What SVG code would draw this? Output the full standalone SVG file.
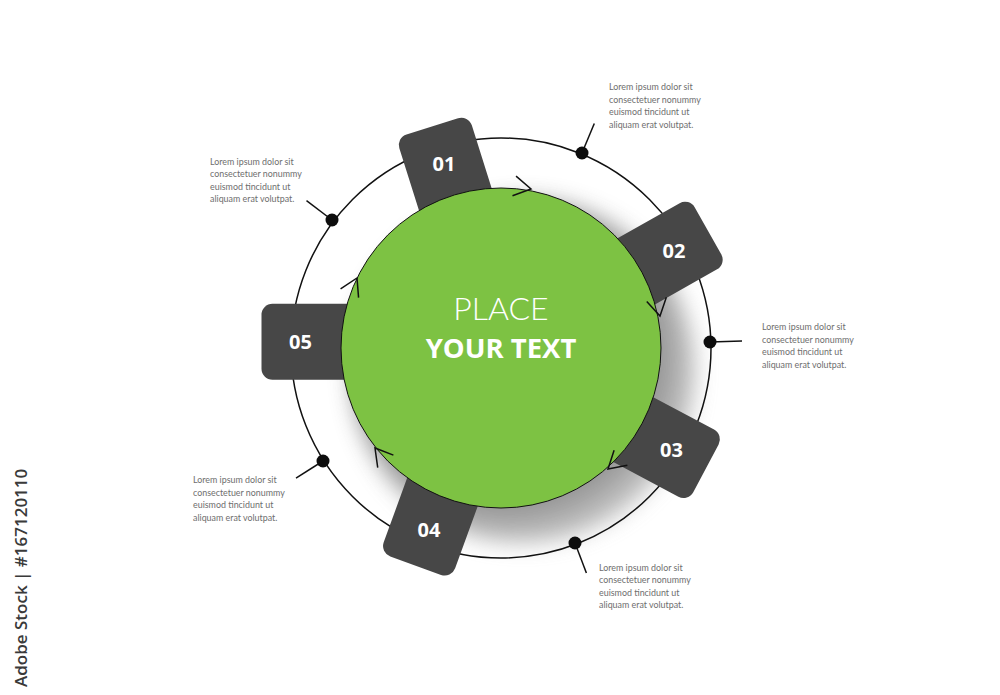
<svg xmlns="http://www.w3.org/2000/svg" width="1000" height="695" viewBox="0 0 1000 695">
<defs>
<style>
.note{font-family:Lato,"Open Sans","Liberation Sans",sans-serif;font-size:8.9px;fill:#6e6e6e}
.num{font-family:"Open Sans","Liberation Sans",sans-serif;font-size:20px;font-weight:700;fill:#ffffff;text-anchor:middle}
.tab{fill:#474747}
.spoke{stroke:#111;stroke-width:1.5;fill:none}
.dot{fill:#0d0d0d}
.chev{stroke:#111;stroke-width:1.5;fill:none;stroke-linejoin:miter}
</style>
<filter id="blur" x="-30%" y="-30%" width="160%" height="160%">
<feGaussianBlur stdDeviation="11"/>
</filter>
<radialGradient id="shg" cx="0.45" cy="0.45" r="0.6">
<stop offset="0.7" stop-color="#444"/>
<stop offset="1" stop-color="#bbb"/>
</radialGradient>
</defs>
<rect width="1000" height="695" fill="#ffffff"/>
<g id="shadow">
<circle cx="523" cy="371" r="172" fill="url(#shg)" opacity="0.6" filter="url(#blur)"/>
</g>
<g id="connectors">
<circle cx="501" cy="348" r="210" fill="none" stroke="#111" stroke-width="1.5"/>
<line class="spoke" x1="582" y1="153" x2="594.3" y2="123.5"/>
<line class="spoke" x1="332" y1="220" x2="306.5" y2="200.7"/>
<line class="spoke" x1="710" y1="342" x2="742" y2="341.1"/>
<line class="spoke" x1="323" y1="461" x2="296" y2="478.2"/>
<line class="spoke" x1="575" y1="543" x2="586.4" y2="572.9"/>
<circle class="dot" cx="582" cy="153" r="6.5"/>
<circle class="dot" cx="332" cy="220" r="6.5"/>
<circle class="dot" cx="710" cy="342" r="6.5"/>
<circle class="dot" cx="323" cy="461" r="6.5"/>
<circle class="dot" cx="575" cy="543" r="6.5"/>
</g>
<g id="tab01"><rect class="tab" x="-62" y="-38" width="101" height="76" rx="11" transform="translate(444 163.5) rotate(252.5)"/><text class="num" x="444" y="171">01</text></g>
<g id="tab02"><rect class="tab" x="-62" y="-38" width="101" height="76" rx="11" transform="translate(674 250) rotate(330.5)"/><text class="num" x="674" y="257.5">02</text></g>
<g id="tab03"><rect class="tab" x="-62" y="-38" width="101" height="76" rx="11" transform="translate(671.5 450) rotate(28)"/><text class="num" x="671.5" y="457">03</text></g>
<g id="tab04"><rect class="tab" x="-62" y="-38" width="101" height="76" rx="11" transform="translate(429 529) rotate(110)"/><text class="num" x="429" y="536.5">04</text></g>
<g id="tab05"><rect class="tab" x="-62" y="-38" width="101" height="76" rx="11" transform="translate(300.5 341.7) rotate(180)"/><text class="num" x="300.5" y="348.5">05</text></g>
<g id="center">
<circle cx="501" cy="348" r="160" fill="#7dc243" stroke="#111" stroke-width="1"/>
<text x="501" y="320" text-anchor="middle" font-family="Lato,'Open Sans',sans-serif" font-weight="300" font-size="32" fill="#ffffff">PLACE</text>
<text x="501" y="357.5" text-anchor="middle" font-family="'Open Sans','Liberation Sans',sans-serif" font-weight="700" font-size="27.5" fill="#ffffff">YOUR TEXT</text>
</g>
<g id="arrows">
<path class="chev" d="M -17 -10 L 0 0 L -17 10" transform="translate(531 189) rotate(10.3)"/>
<path class="chev" d="M -17 -10 L 0 0 L -17 10" transform="translate(660 316) rotate(78.3)"/>
<path class="chev" d="M -17 -10 L 0 0 L -17 10" transform="translate(608 469) rotate(138.5)"/>
<path class="chev" d="M -17 -10 L 0 0 L -17 10" transform="translate(375 448) rotate(231.6)"/>
<path class="chev" d="M -17 -10 L 0 0 L -17 10" transform="translate(357 278) rotate(295.9)"/>
</g>
<g id="note01" class="note"><text x="609" y="90">Lorem ipsum dolor sit</text><text x="609" y="102.5">consectetuer nonummy</text><text x="609" y="115">euismod tincidunt ut</text><text x="609" y="127.5">aliquam erat volutpat.</text></g>
<g id="note05" class="note"><text x="210" y="164.5">Lorem ipsum dolor sit</text><text x="210" y="177">consectetuer nonummy</text><text x="210" y="189.5">euismod tincidunt ut</text><text x="210" y="202">aliquam erat volutpat.</text></g>
<g id="note02" class="note"><text x="762" y="330">Lorem ipsum dolor sit</text><text x="762" y="342.5">consectetuer nonummy</text><text x="762" y="355">euismod tincidunt ut</text><text x="762" y="367.5">aliquam erat volutpat.</text></g>
<g id="note04" class="note"><text x="193" y="483">Lorem ipsum dolor sit</text><text x="193" y="495.5">consectetuer nonummy</text><text x="193" y="508">euismod tincidunt ut</text><text x="193" y="520.5">aliquam erat volutpat.</text></g>
<g id="note03" class="note"><text x="599" y="570.5">Lorem ipsum dolor sit</text><text x="599" y="583">consectetuer nonummy</text><text x="599" y="595.5">euismod tincidunt ut</text><text x="599" y="608">aliquam erat volutpat.</text></g>
<text x="27" y="687" transform="rotate(-90 27 687)" font-family="'Open Sans','Liberation Sans',sans-serif" font-weight="600" font-size="17" fill="#3a3a3a">Adobe Stock | #167120110</text>
</svg>
